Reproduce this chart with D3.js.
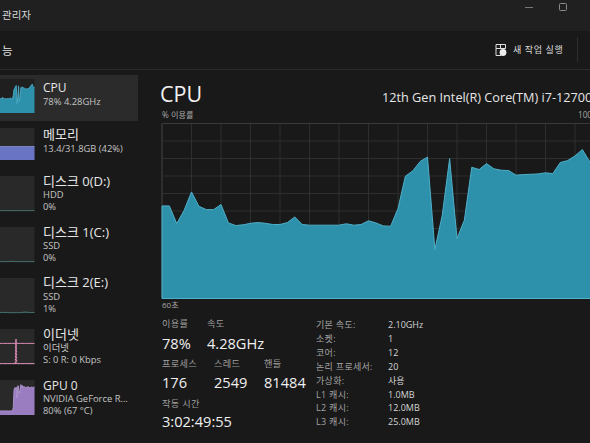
<!DOCTYPE html>
<html><head><meta charset="utf-8">
<script src="https://cdn.jsdelivr.net/npm/d3@7"></script>
<style>html,body{margin:0;padding:0;background:#191919;overflow:hidden}svg{display:block}text{font-family:"Open Sans","Noto Sans CJK KR",sans-serif}</style>
</head><body><svg id="c" width="590" height="443"></svg>
<script>
const cpuValues=[52.9,52.9,42.8,50.4,60.9,52.7,50.8,50.8,53.7,43.2,41.7,42.1,43,43.4,43,42.3,42.3,43.4,46.6,42.3,41.9,41.9,41.9,41.9,41.9,42.7,41.9,42.3,44.4,43.2,41.5,41.3,51.4,69.9,72.9,78.3,80.8,28,47.6,80,34.3,44.8,75,73.7,77.1,74.1,73.3,73.1,70.5,70.8,71,71.2,71.8,71.4,77.7,78.8,81.5,85.1,78.1,75,76];
const memValues=[42,42,42,42,42,42,42,42,42,42,42];
const disk0Values=[1,1,1,1,1,1,1,1,1,1,1];
const disk1Values=[1,1,1,1,1,2,1,1,1,1,1];
const disk2Values=[1,1,1,2,1,1,1,1,3,1,2];
const ethRecvValues=[60,60,60,60,60,60,60,60,60,60,60];
const ethSendValues=[4,4,4,4,4,4,4,4,4,4,4];
const ethSpikeValues=[4,72,4];
const gpuValues=[12,11,12,12,11,12,11,12,12,11,12,12,11,12,11,12,12,11,12,12,11,12,12,11,12,12,11,12,12,11,12,12,22,72,78,76,80,50,84,82,62,70,87,80,84,78,82,80,78,80,79,80,81,77,79,78,80,79,78,80,80];
const sidebarNames=["CPU","메모리","디스크 0(D:)","디스크 1(C:)","디스크 2(E:)","이더넷","GPU 0"];
const sidebarLine1=["78% 4.28GHz","13.4/31.8GB (42%)","HDD","SSD","SSD","이더넷","NVIDIA GeForce R..."];
const sidebarLine2=["","","0%","0%","1%","S: 0 R: 0 Kbps","80% (67 °C)"];
const statLabels=["이용률","속도","프로세스","스레드","핸들","작동 시간"];
const statValues=["78%","4.28GHz","176","2549","81484","3:02:49:55"];
const specLabels=["기본 속도:","소켓:","코어:","논리 프로세서:","가상화:","L1 캐시:","L2 캐시:","L3 캐시:"];
const specValues=["2.10GHz","1","12","20","사용","1.0MB","12.0MB","25.0MB"];

const svg=d3.select("#c");
const rect=(x,y,w,h,f)=>svg.append("rect").attr("x",x).attr("y",y).attr("width",w).attr("height",h).attr("fill",f);
const text=(x,y,s,size,fill,ls)=>svg.append("text").attr("x",x).attr("y",y).attr("font-size",size).attr("fill",fill).attr("letter-spacing",ls||0).text(s);

rect(0,0,590,443,"#191919");
rect(0,0,590,31,"#202020");
rect(0,69,590,1,"#2c2c2c");
rect(0,75,138,46,"#2b2b2b");
text(2,19,"관리자",10.5,"#d8d8d8");
text(2,55,"능",11.5,"#e4e4e4");
// window controls
rect(525,7,8,1,"#777");
svg.append("rect").attr("x",559.5).attr("y",3.5).attr("width",7).attr("height",7).attr("rx",1).attr("fill","none").attr("stroke","#8a8a8a");
// new-task button
svg.append("path").attr("d","M496 44.5h9.5v4h-9.5zM496 48.5v7h5M500.5 44.5v4").attr("fill","none").attr("stroke","#e0e0e0");
svg.append("circle").attr("cx",503).attr("cy",52.5).attr("r",3.4).attr("fill","#eee");
text(513,53,"새 작업 실행",9,"#dedede",.6);
rect(577,37,1,25,"#2e2e2e");

// main CPU chart
const plot={l:162,r:604.5,t:123.5,b:298.5};
const x=d3.scaleLinear().domain([0,60]).range([plot.l,plot.r]);
const y=d3.scaleLinear().domain([0,100]).range([plot.b,plot.t]);
const grid=svg.append("g").attr("stroke","#2e2e2e").attr("stroke-width",1);
grid.selectAll(".h").data(d3.range(0,101,10)).join("line").attr("x1",plot.l).attr("x2",plot.r).attr("y1",d=>y(d)).attr("y2",d=>y(d));
grid.selectAll(".v").data(d3.range(0,61,4)).join("line").attr("y1",plot.t).attr("y2",plot.b).attr("x1",d=>x(d)).attr("x2",d=>x(d));
svg.append("line").attr("x1",plot.l).attr("x2",plot.r).attr("y1",plot.t).attr("y2",plot.t).attr("stroke","#3a3a3a");
svg.append("line").attr("x1",plot.l).attr("x2",plot.l).attr("y1",plot.t).attr("y2",plot.b).attr("stroke","#3a3a3a");
const area=d3.area().x((d,i)=>x(i)).y0(plot.b).y1(d=>y(d));
const line=d3.line().x((d,i)=>x(i)).y(d=>y(d));
svg.append("path").datum(cpuValues).attr("d",area).attr("fill","#2e91ab");
svg.append("path").datum(cpuValues).attr("d",line).attr("fill","none").attr("stroke","#4fafc9").attr("stroke-width",1);
rect(plot.l,plot.b-.5,430,1,"#4fafc9");
svg.append("line").attr("x1",plot.l).attr("x2",plot.l).attr("y1",y(cpuValues[0])).attr("y2",plot.b).attr("stroke","#4fafc9");

text(160,101.5,"CPU",21.5,"#f2f2f2");
text(382,102,"12th Gen Intel(R) Core(TM) i7-12700",12.7,"#e6e6e6");
text(162,118,"% 이용률",8.2,"#a8a8a8");
text(578,118,"100%",8.2,"#a8a8a8");
text(162,308,"60초",8,"#a8a8a8");

// sidebar thumbs
const thumbTops=[79,128,176,227,278,329,380], thumbBottoms=[113,160,211,262,313,365,415];
const thumbSeries=[[cpuValues],[memValues],[disk0Values],[disk1Values],[disk2Values],[ethRecvValues,ethSendValues],[gpuValues]];
const thumbColors=[["#2e91ab","#52b4cf"],["#6a74c4","#8e96dc"],["#2e4d4a","#4a8078"],["#2e4d4a","#4a8078"],["#2e4d4a","#4a8078"],["none","#d88ab4"],["#9a7cc0","#b9a0da"]];
const nameBase=[92,139,186,237,287,339,390], l1Base=[105,152,198,249,300,351,402], l2Base=[0,0,210,261,312,363,414];
sidebarNames.forEach((n,k)=>{
  const t=thumbTops[k],b=thumbBottoms[k];
  rect(0,t,34.5,b-t,k===0?"#1f1f1f":"#292929");
  const sy=d3.scaleLinear().domain([0,100]).range([b,t]);
  thumbSeries[k].forEach(vals=>{
    const sx=d3.scaleLinear().domain([0,vals.length-1]).range([-11,34.5]);
    const g=svg.append("g");
    if(thumbColors[k][0]!=="none") g.append("path").datum(vals).attr("d",d3.area().x((d,i)=>sx(i)).y0(b).y1(d=>sy(d))).attr("fill",thumbColors[k][0]);
    g.append("path").datum(vals).attr("d",d3.line().x((d,i)=>sx(i)).y(d=>sy(d))).attr("fill","none").attr("stroke",thumbColors[k][1]).attr("stroke-width",k===5?1:.8);
  });
  if(k===5){
    const sx=d3.scaleLinear().domain([0,ethSpikeValues.length-1]).range([15.5,16.5]);
    svg.append("path").datum(ethSpikeValues).attr("d",d3.line().x((d,i)=>sx(i)).y(d=>sy(d))).attr("fill","none").attr("stroke","#d88ab4").attr("stroke-width",1.5).attr("stroke-dasharray","2 1");
  }
  text(43,nameBase[k],n,k===0||k===6?12:13,"#e6e6e6");
  text(43,l1Base[k],sidebarLine1[k],9.4,"#c4c4c4");
  if(sidebarLine2[k]) text(43,l2Base[k],sidebarLine2[k],9.4,"#c4c4c4");
});

// stats
const statX=[162,207,162,214,264,162], statY=[327,327,367,367,367,407];
const valY=[349,349,388,388,388,427];
statLabels.forEach((s,i)=>{
  text(statX[i],statY[i],s,9.2,"#9e9e9e",.3);
  text(statX[i],valY[i],statValues[i],14.6,"#f0f0f0");
});
// specs
specLabels.forEach((s,i)=>{
  const yy=328+i*13.9;
  text(316,yy,s,9,"#a4a4a4",.3);
  text(388,yy,specValues[i],9,"#d4d4d4");
});
</script></body></html>
